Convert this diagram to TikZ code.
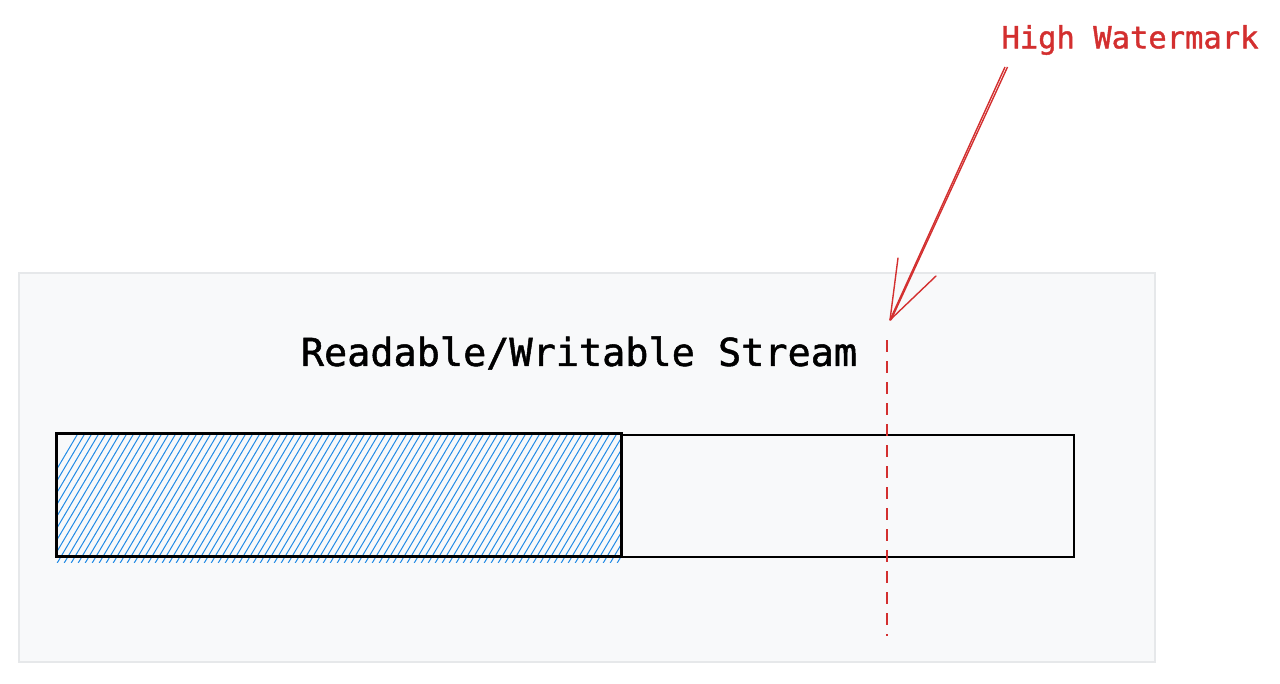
\documentclass[tikz,border=0pt]{standalone}
\usepackage{fontspec}
\newfontfamily\boldmono[FakeBold=1.3]{DejaVu Sans Mono}
\definecolor{redc}{HTML}{D32F2F}
\definecolor{bluec}{HTML}{228BE6}
\definecolor{panelfill}{HTML}{F8F9FA}
\definecolor{paneledge}{HTML}{E6E8EA}
\begin{document}
\begin{tikzpicture}[x=1pt,y=-1pt,
  panel/.style={draw=paneledge,fill=panelfill,line width=2pt},
  barbox/.style={draw=black,line width=2pt},
  hatchline/.style={draw=bluec,line width=1pt},
  redline/.style={draw=redc,line width=1.6pt},
  lbl/.style={font=\boldmono\fontsize{38.5}{40}\selectfont,inner sep=0pt},
  redlbl/.style={font=\boldmono\fontsize{30.5}{32}\selectfont,inner sep=0pt,text=redc}]
\useasboundingbox (0,0) rectangle (1280,683);
\fill[white] (0,0) rectangle (1280,683);
\path[panel] (19,273) rectangle (1155,662);
\node[lbl] (title) at (579,353) {Readable/Writable Stream};
% hatched filled part
\begin{scope}
\clip (56,433) rectangle (622,562);
\foreach \i in {0,7,...,700} {
  \draw[hatchline] (\i,565) -- ++(80,-135);
}
\end{scope}
\coordinate (fa) at (56,433);
\coordinate (fb) at (621,556);
\draw[barbox,line width=3pt] (fa) rectangle (fb);
\coordinate (ea) at (621,435);
\coordinate (eb) at (1074,557);
\draw[barbox] (ea) rectangle (eb);
% watermark
\coordinate (wt) at (887,340);
\coordinate (wb) at (887,636);
\draw[redline,line width=2.6pt,dash pattern=on 12pt off 9pt] (wt) -- (wb);
\node[redlbl] (hw) at (1130,40) {High Watermark};
\coordinate (as) at (1005,67);
\coordinate (at) at (890,320);
\coordinate (ah1) at (898,258);
\coordinate (ah2) at (936,276);
\draw[redline,line width=1.4pt] (as) -- (at);
\draw[redline,line width=1.4pt] ([xshift=2.5pt]as) -- ([xshift=1pt]at);
\draw[redline,line width=1.4pt,line cap=round] (at) -- (ah1);
\draw[redline,line width=1.4pt,line cap=round] (at) -- (ah2);
\end{tikzpicture}
\end{document}
